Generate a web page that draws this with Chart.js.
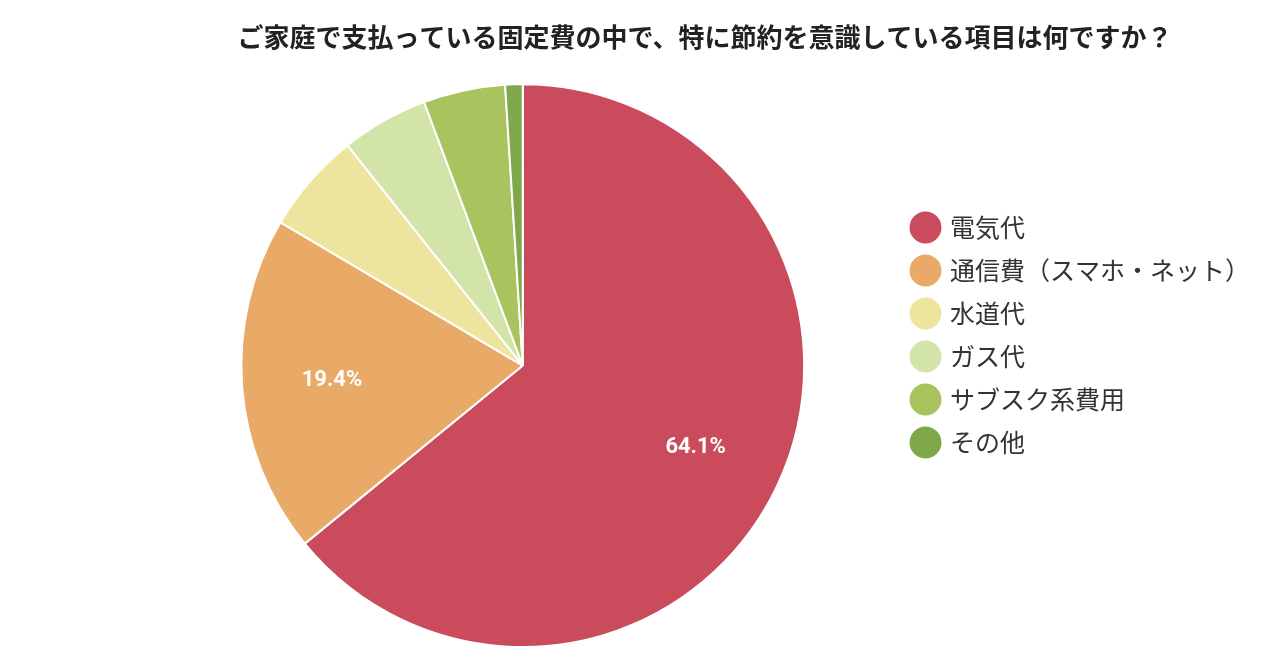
<!DOCTYPE html>
<html><head><meta charset="utf-8">
<script src="https://cdn.jsdelivr.net/npm/chart.js@4"></script>
<style>html,body{margin:0;background:#fff}#wrap{width:1280px;height:670px}</style>
</head><body><div id="wrap"><canvas id="c"></canvas></div>
<script>
const labels = ['電気代', '通信費（スマホ・ネット）', '水道代', 'ガス代', 'サブスク系費用', 'その他'];
const values = [64.1, 19.4, 5.8, 5.0, 4.7, 1.0];
const colors = ['#c94b5c', '#e8aa66', '#ede59d', '#d3e4a9', '#a9c45e', '#7ea84a'];
const font = '"Noto Sans CJK JP", sans-serif';

// show percentage only on the two big slices
const pctLabels = {
  id: 'pctLabels',
  afterDatasetsDraw(chart) {
    const ctx = chart.ctx;
    chart.getDatasetMeta(0).data.forEach((arc, i) => {
      if (values[i] < 10) return;
      const mid = (arc.startAngle + arc.endAngle) / 2;
      const r = arc.outerRadius * 0.68;
      ctx.save();
      ctx.fillStyle = '#fff';
      ctx.font = 'bold 22px Roboto, sans-serif';
      ctx.textAlign = 'center';
      ctx.textBaseline = 'middle';
      ctx.fillText(values[i].toFixed(1) + '%', arc.x + Math.cos(mid) * r, arc.y + Math.sin(mid) * r);
      ctx.restore();
    });
  }
};

new Chart(document.getElementById('c'), {
  type: 'pie',
  data: { labels, datasets: [{ data: values, backgroundColor: colors, borderColor: '#fff', borderWidth: 2 }] },
  options: {
    responsive: true, maintainAspectRatio: false, animation: false,
    layout: { padding: { left: 150, right: 20, top: 22, bottom: 22 } },
    plugins: {
      title: { display: true, text: 'ご家庭で支払っている固定費の中で、特に節約を意識している項目は何ですか？',
        color: '#222', font: { family: font, size: 26, weight: 'bold' }, padding: { top: 0, bottom: 30 } },
      legend: { position: 'right',
        labels: { usePointStyle: true, pointStyle: 'circle', boxWidth: 24, boxHeight: 24, padding: 18,
          color: '#333', font: { family: font, size: 25 } } },
      tooltip: { enabled: false }
    }
  },
  plugins: [pctLabels]
});
</script></body></html>
